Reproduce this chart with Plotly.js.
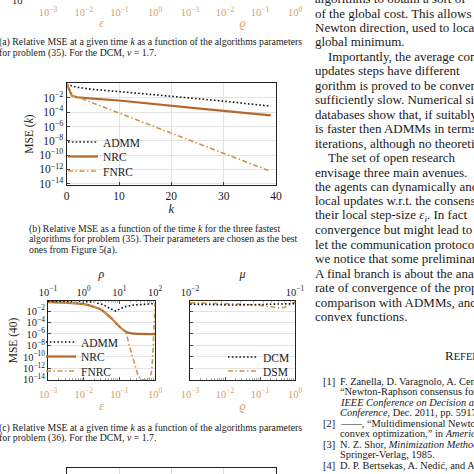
<!DOCTYPE html>
<html><head><meta charset="utf-8">
<script src="https://cdn.plot.ly/plotly-3.0.1.min.js"></script>
<style>html,body{margin:0;padding:0;background:#fff}#chart{width:474px;height:474px}</style>
</head><body><div id="chart"></div>
<script>
// ---------- Figure (b): MSE(k) vs k  (log10 of MSE) ----------
const kIter     = [0, 1, 2, 3, 5, 10, 15, 20, 25, 30, 35, 39];
const admmLogK  = [-0.1, -0.35, -0.5, -0.6, -0.8, -1.1, -1.4, -1.75, -2.1, -2.45, -2.8, -3.15];
const nrcLogK   = [0.0, -1.7, -1.9, -2.0, -2.1, -2.35, -2.75, -3.15, -3.45, -3.8, -4.15, -4.45];
const fnrcLogK  = [0.0, -1.7, -1.9, -2.1, -2.7, -4.1, -5.5, -6.9, -8.3, -9.7, -11.1, -12.3];

// ---------- Figure (c) left: MSE(40) vs rho (ADMM) and eps (NRC, FNRC) ----------
const rhoLog     = [-1, -0.5, 0, 0.3, 0.55, 0.75, 0.89, 1.0, 1.15, 1.4, 1.7, 2.0];
const admmLog40  = [-0.3, -0.3, -0.35, -0.45, -0.9, -1.6, -2.0, -1.7, -1.25, -0.95, -0.8, -0.7];
const epsNrcLog  = [-3, -2.5, -2, -1.7, -1.5, -1.38, -1.2, -1.05, -0.93, -0.8, -0.65, -0.4, 0];
const nrcLog40   = [-0.43, -0.52, -0.8, -1.3, -1.8, -2.4, -3.4, -4.4, -5.1, -5.65, -5.9, -6.0, -6.05];
const epsFnrcLog = [-3, -2.5, -2, -1.7, -1.5, -1.38, -1.2, -1.05, -0.93, -0.8, -0.71, -0.57, -0.48, -0.39, -0.3, -0.2, -0.14, -0.09, -0.055, -0.04, -0.02, 0];
const fnrcLog40  = [-0.43, -0.52, -0.8, -1.3, -1.8, -2.4, -3.4, -4.4, -5.1, -6.0, -8.3, -11.2, -13.2, -14.0, -14.0, -14.0, -13.6, -12.4, -8.9, -5.4, -1.3, -0.5];

// ---------- Figure (c) right: MSE(40) vs mu (DCM) and varrho (DSM) ----------
const muLog      = [-2, -1.8, -1.6, -1.4, -1.2, -1.0];
const dcmLog40   = [-0.8, -0.9, -0.95, -0.9, -0.8, -0.7];
const varrhoLog  = [-3, -2.5, -2, -1.5, -1.0, -0.7, -0.5, -0.3, -0.15, 0];
const dsmLog40   = [-0.55, -0.6, -0.65, -0.8, -1.0, -1.3, -1.45, -1.35, -0.95, -0.45];

// ---------- tick labels ----------
const mseTickExp   = [-2, -4, -6, -8, -10, -12, -14];
const kTicks       = [0, 10, 20, 30, 40];
const paramTickExp = [-3, -2, -1, 0];
const rhoTickExp   = [-1, 0, 1, 2];
const muTickExp    = [-2, -1];

const P10 = v => Math.pow(10, v);
const sup = e => '10<sup>' + (e < 0 ? '\u2212' + (-e) : e) + '</sup>';
const minorVals = exps => { const o = []; exps.slice(0, -1).forEach(e => { for (let m = 2; m <= 9; m++) o.push(m * P10(e)); }); return o; };

const FONT = 'Liberation Serif, Times New Roman, serif';
const INK = '#1a1a1a';
const ORANGE_TXT = '#d6a066';
const C_ADMM = '#141414', C_NRC = '#b5682c', C_FNRC = '#cf9445';
const DOT = '1.6px,2.2px', DASHDOT = '5px,2.5px,1.5px,2.5px';
const GRID = '#dcdcdc';

const W = 474, H = 474;
const px = v => v / W, py = v => 1 - v / H;

const traces = [
  {x: kIter, y: admmLogK.map(P10), xaxis: 'x', yaxis: 'y', mode: 'lines', name: 'ADMM', legend: 'legend',
   line: {color: C_ADMM, width: 1.6, dash: DOT}},
  {x: kIter, y: nrcLogK.map(P10), xaxis: 'x', yaxis: 'y', mode: 'lines', name: 'NRC', legend: 'legend2',
   line: {color: C_NRC, width: 2.2}},
  {x: kIter, y: fnrcLogK.map(P10), xaxis: 'x', yaxis: 'y', mode: 'lines', name: 'FNRC', legend: 'legend3',
   line: {color: C_FNRC, width: 1.6, dash: DASHDOT}},

  {x: rhoLog.map(P10), y: admmLog40.map(P10), xaxis: 'x3', yaxis: 'y2', mode: 'lines', name: 'ADMM', legend: 'legend4',
   line: {color: C_ADMM, width: 1.6, dash: DOT}},
  {x: epsNrcLog.map(P10), y: nrcLog40.map(P10), xaxis: 'x2', yaxis: 'y2', mode: 'lines', name: 'NRC', legend: 'legend5',
   line: {color: C_NRC, width: 2.2, shape: 'spline', smoothing: 0.6}},
  {x: epsFnrcLog.map(P10), y: fnrcLog40.map(P10), xaxis: 'x2', yaxis: 'y2', mode: 'lines', name: 'FNRC', legend: 'legend6',
   line: {color: C_FNRC, width: 1.6, dash: DASHDOT}},

  {x: muLog.map(P10), y: dcmLog40.map(P10), xaxis: 'x5', yaxis: 'y3', mode: 'lines', name: 'DCM', legend: 'legend7',
   line: {color: C_ADMM, width: 1.6, dash: DOT}},
  {x: varrhoLog.map(P10), y: dsmLog40.map(P10), xaxis: 'x4', yaxis: 'y3', mode: 'lines', name: 'DSM', legend: 'legend8',
   line: {color: C_FNRC, width: 1.6, dash: DASHDOT}},

  {x: [], y: [], xaxis: 'x6', yaxis: 'y4', showlegend: false},
  {x: [], y: [], xaxis: 'x7', yaxis: 'y4', showlegend: false},
  {x: [], y: [], xaxis: 'x8', yaxis: 'y5', showlegend: false}
];

const tf = (s, c) => ({family: FONT, size: s, color: c || INK});
const domB = [py(185), py(83)];
const domC = [py(380), py(301)];
const domCL = [px(48), px(155)];
const domCR = [px(190), px(295)];
const domBX = [px(66.7), px(276)];

const mseY = (dom, anchor, showLabels, fs, rng) => ({
  domain: dom, anchor: anchor, type: 'log', range: rng,
  tickmode: 'array', tickvals: mseTickExp.map(P10), ticktext: mseTickExp.map(sup),
  showticklabels: showLabels, tickfont: tf(fs), ticks: 'inside', ticklen: 3, tickcolor: '#444',
  showgrid: true, gridcolor: GRID, gridwidth: 0.8, zeroline: false,
  showline: true, mirror: true, linecolor: '#222', linewidth: 1
});

const paramX = (dom, anchor, title, extra) => Object.assign({
  domain: dom, anchor: anchor, type: 'log', range: [-3, 0],
  tickmode: 'array', tickvals: paramTickExp.map(P10), ticktext: paramTickExp.map(sup),
  tickfont: tf(10.5, ORANGE_TXT), ticks: 'inside', ticklen: 3, tickcolor: '#555',
  minor: {tickvals: minorVals(paramTickExp), ticks: 'inside', ticklen: 2, tickcolor: '#aaa', showgrid: false},
  showgrid: false, zeroline: false, showline: true, linecolor: '#222', linewidth: 1,
  title: {text: title, font: tf(12, ORANGE_TXT), standoff: 3}
}, extra || {});

const topX = (dom, overl, anchor, exps, title) => ({
  domain: dom, overlaying: overl, anchor: anchor, side: 'top', type: 'log',
  range: [exps[0], exps[exps.length - 1]],
  tickmode: 'array', tickvals: exps.map(P10), ticktext: exps.map(sup),
  tickfont: tf(10.5), ticks: 'inside', ticklen: 3, tickcolor: '#555',
  minor: {tickvals: minorVals(exps), ticks: 'inside', ticklen: 2, tickcolor: '#bbb', showgrid: false},
  showgrid: false, zeroline: false, showline: true, linecolor: '#222', linewidth: 1,
  title: {text: title, font: tf(12), standoff: 3}
});

const leg = (x, y) => ({x: px(x), y: py(y), xanchor: 'left', yanchor: 'middle', bgcolor: 'rgba(0,0,0,0)',
  borderwidth: 0, font: tf(11.5), tracegroupgap: 0, itemwidth: 30});

const anns = [];
const T = (x, y, text, size, extra) => anns.push(Object.assign({
  xref: 'paper', yref: 'paper', x: px(x), y: py(y), text: text, showarrow: false,
  xanchor: 'left', yanchor: 'middle', font: tf(size)
}, extra || {}));

// cut label of panel (a)
T(23, -0.5, '10<sup>\u221214</sup>', 10.5, {xanchor: 'center'});

// captions
const CAP = 9.8;
const capA = ['(a) Relative MSE at a given time <i>k</i> as a function of the algorithms parameters',
              'for problem (35). For the DCM, <i>\u03bd</i> = 1.7.'];
const capB = ['(b) Relative MSE as a function of the time <i>k</i> for the three fastest',
              'algorithms for problem (35). Their parameters are chosen as the best',
              'ones from Figure 5(a).'];
const capC = ['(c) Relative MSE at a given time <i>k</i> as a function of the algorithms parameters',
              'for problem (36). For the DCM, <i>\u03bd</i> = 1.7.'];
capA.forEach((s, i) => T(-3.3, 42 + i * 10.8, s, CAP));
capB.forEach((s, i) => T(27, 228.5 + i * 10.8, s, CAP));
capC.forEach((s, i) => T(-3.3, 427.5 + i * 10.8, s, CAP));

// right column body text
const body = [
  ['algorithms to obtain a sort of', 0],
  ['of the global cost. This allows', 0],
  ['Newton direction, used to locate', 0],
  ['global minimum.', 0],
  ['Importantly, the average consensus', 1],
  ['updates steps have different', 0],
  ['gorithm is proved to be convergent', 0],
  ['sufficiently slow. Numerical simulations', 0],
  ['databases show that, if suitably', 0],
  ['is faster then ADMMs in terms of', 0],
  ['iterations, although no theoretical', 0],
  ['The set of open research', 1],
  ['envisage three main avenues.', 0],
  ['the agents can dynamically and', 0],
  ['local updates w.r.t. the consensus', 0],
  ['their local step-size <i>\u03b5</i><sub><i>i</i></sub>. In fact', 0],
  ['convergence but might lead to', 0],
  ['let the communication protocol', 0],
  ['we notice that some preliminary', 0],
  ['A final branch is about the analysis', 0],
  ['rate of convergence of the proposed', 0],
  ['comparison with ADMMs, and', 0],
  ['convex functions.', 0]
];
body.forEach((b, i) => T(b[1] ? 326 : 313, -1.4 + i * 14.45, b[0], 13));
T(443, 355, 'R<span style="font-size:10.5px">EFERENCES</span>', 13);

const refs = [
  ['[1]', 'F. Zanella, D. Varagnolo, A. Cenedese, G. Pillonetto, and L. Schenato,'],
  ['', '\u201cNewton-Raphson consensus for distributed convex optimization,\u201d in'],
  ['', '<i>IEEE Conference on Decision and Control and European Control</i>'],
  ['', '<i>Conference</i>, Dec. 2011, pp. 5917\u20135922.'],
  ['[2]', '\u2014\u2014, \u201cMultidimensional Newton-Raphson consensus for distributed'],
  ['', 'convex optimization,\u201d in <i>American Control Conference</i>, 2012.'],
  ['[3]', 'N. Z. Shor, <i>Minimization Methods for Non-Differentiable Functions</i>.'],
  ['', 'Springer-Verlag, 1985.'],
  ['[4]', 'D. P. Bertsekas, A. Nedi\u0107, and A. E. Ozdaglar, <i>Convex Analysis</i>']
];
refs.forEach((r, i) => {
  const y = 381.5 + i * 10.45;
  if (r[0]) T(321, y, r[0], 10.4);
  T(338, y, r[1], 10.4);
});

const layout = {
  width: W, height: H, margin: {l: 0, r: 0, t: 0, b: 0},
  paper_bgcolor: '#fff', plot_bgcolor: '#fff', font: tf(11),
  showlegend: true,
  // (b)
  xaxis: {domain: domBX, anchor: 'y', range: [0, 40], tickmode: 'array', tickvals: kTicks,
          tickfont: tf(11.5), ticks: 'inside', ticklen: 3, tickcolor: '#444',
          showgrid: true, gridcolor: GRID, gridwidth: 0.8, zeroline: false,
          showline: true, mirror: true, linecolor: '#222', linewidth: 1,
          title: {text: '<i>k</i>', font: tf(12.5), standoff: 1}},
  yaxis: Object.assign(mseY(domB, 'x', true, 11.5, [-14.2, 0.1]), {title: {text: 'MSE (<i>k</i>)', font: tf(11.5), standoff: 3}}),
  // (c) left
  xaxis2: paramX(domCL, 'y2', '<i>\u03b5</i>', {ticklabelstandoff: 4}),
  xaxis3: topX(domCL, 'x2', 'y2', rhoTickExp, '<i>\u03c1</i>'),
  yaxis2: Object.assign(mseY(domC, 'x2', true, 10.5, [-14.05, -0.25]), {title: {text: 'MSE (40)', font: tf(11.5), standoff: 2}}),
  // (c) right
  xaxis4: paramX(domCR, 'y3', '<i>\u03f1</i>', {ticklabelstandoff: 4}),
  xaxis5: topX(domCR, 'x4', 'y3', muTickExp, '<i>\u03bc</i>'),
  yaxis3: mseY(domC, 'x4', false, 10.5, [-14.05, -0.25]),
  // (a) cut-off bottom axes (their plot area lies above the picture)
  xaxis6: paramX(domCL, 'y4', '<i>\u03b5</i>', {showline: false, ticks: '', minor: {ticks: ''},
          title: {text: '<i>\u03b5</i>', font: tf(12, ORANGE_TXT), standoff: 1}}),
  xaxis7: paramX(domCR, 'y4', '<i>\u03f1</i>', {showline: false, ticks: '', minor: {ticks: ''},
          title: {text: '<i>\u03f1</i>', font: tf(12, ORANGE_TXT), standoff: 1}}),
  yaxis4: {domain: [py(4.5), py(4)], anchor: 'x6', visible: false},
  // next figure (top edge only)
  xaxis8: {domain: domBX, anchor: 'y5', range: [0, 40], tickmode: 'array', tickvals: [10, 20, 30],
           showticklabels: false, ticks: '', showgrid: true, gridcolor: GRID, zeroline: false,
           showline: true, mirror: true, linecolor: '#222', linewidth: 1},
  yaxis5: {domain: [0, py(468)], anchor: 'x8', range: [0, 1], showticklabels: false, ticks: '',
           showgrid: false, zeroline: false, showline: true, mirror: true, linecolor: '#222', linewidth: 1},
  legend:  leg(63, 142),
  legend2: leg(63, 156.5),
  legend3: leg(63, 171),
  legend4: leg(41, 342),
  legend5: leg(41, 356.5),
  legend6: leg(41, 371),
  legend7: leg(223, 357),
  legend8: leg(223, 371),
  annotations: anns
};

Plotly.newPlot('chart', traces, layout, {staticPlot: true, displayModeBar: false});
</script>
</body></html>
